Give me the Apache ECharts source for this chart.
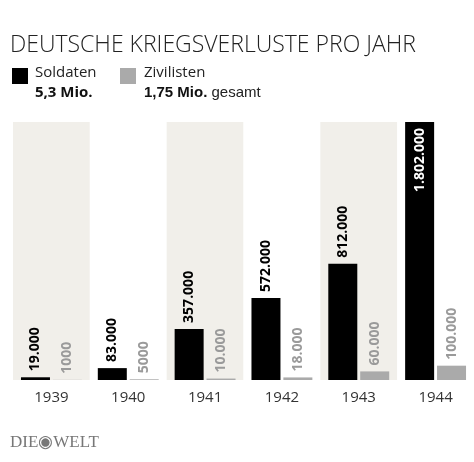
<!DOCTYPE html>
<html><head><meta charset="utf-8">
<script src="https://cdn.jsdelivr.net/npm/echarts@6/dist/echarts.min.js"></script>
<style>html,body{margin:0;padding:0;background:#fff}</style>
</head><body>
<div id="eCharts" style="width:474px;height:462px"></div>
<script>
var myChart = echarts.init(document.getElementById('eCharts'));

var years = ['1939', '1940', '1941', '1942', '1943', '1944'];
var soldaten = [19000, 83000, 357000, 572000, 812000, 1802000];
var zivilisten = [1000, 5000, 10000, 18000, 60000, 100000];

// Tausenderpunkt erst ab 10.000
function fmt(v) {
    if (v < 10000) return String(v);
    return String(v).replace(/\B(?=(\d{3})+(?!\d))/g, '.');
}

var soldatenData = soldaten.map(function (v, i) {
    if (i === soldaten.length - 1) {
        return {value: v, label: {position: 'insideTop', align: 'right', color: '#fff', distance: 6}};
    }
    return v;
});

var option = {
    animation: false,
    textStyle: {fontFamily: 'Open Sans'},
    grid: {left: 13, top: 122, width: 472, bottom: 82},
    xAxis: {
        type: 'category',
        data: years,
        axisLine: {show: false},
        axisTick: {show: false},
        axisLabel: {color: '#333', fontSize: 15, margin: 10, fontFamily: 'Open Sans'},
        splitArea: {show: true, areaStyle: {color: ['#f1efea', '#ffffff']}}
    },
    yAxis: {
        type: 'value', min: 0, max: 1802000,
        show: false, splitLine: {show: false}
    },
    series: [
        {
            name: 'Soldaten', type: 'bar', data: soldatenData,
            barWidth: 29, barGap: '10%',
            itemStyle: {color: '#000'},
            label: {
                show: true, position: 'top', rotate: 90, align: 'left', verticalAlign: 'middle',
                distance: 6, color: '#000', fontWeight: 'bold', fontSize: 14,
                formatter: function (p) { return fmt(p.value); }
            }
        },
        {
            name: 'Zivilisten', type: 'bar', data: zivilisten,
            barWidth: 29,
            itemStyle: {color: '#aaa'},
            label: {
                show: true, position: 'top', rotate: 90, align: 'left', verticalAlign: 'middle',
                distance: 6, color: '#9a9a9a', fontWeight: 'bold', fontSize: 14,
                formatter: function (p) { return fmt(p.value); }
            }
        }
    ],
    graphic: [
        {type: 'text', left: 10, top: 34, style: {text: 'DEUTSCHE KRIEGSVERLUSTE PRO JAHR', fontSize: 23, fontWeight: 300, fontFamily: 'Open Sans', fill: '#222'}},
        {type: 'rect', shape: {x: 12, y: 68, width: 16, height: 16}, style: {fill: '#000'}},
        {type: 'text', left: 35, top: 65, style: {text: 'Soldaten', fontSize: 15, fill: '#222', fontFamily: 'Open Sans'}},
        {type: 'text', left: 35, top: 85, style: {text: '5,3 Mio.', fontSize: 15, fontWeight: 'bold', fill: '#111', fontFamily: 'Open Sans'}},
        {type: 'rect', shape: {x: 120, y: 68, width: 16, height: 16}, style: {fill: '#aaa'}},
        {type: 'text', left: 144, top: 65, style: {text: 'Zivilisten', fontSize: 15, fill: '#222', fontFamily: 'Open Sans'}},
        {type: 'text', left: 144, top: 85, style: {rich: {b: {fontWeight: 'bold', fontSize: 15, fill: '#111'}, n: {fontSize: 15, fill: '#222'}}, text: '{b|1,75 Mio.}{n| gesamt}', fontFamily: 'Open Sans'}},
        {type: 'text', left: 10, top: 434, style: {text: 'DIE◉WELT', fontSize: 17, fontFamily: 'Liberation Serif', fill: '#777'}}
    ]
};
myChart.setOption(option);
</script>
</body></html>
